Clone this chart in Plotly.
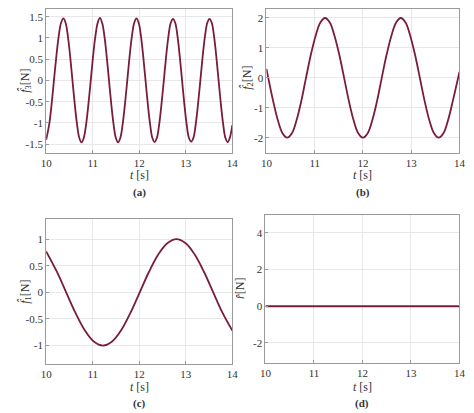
import plotly.graph_objects as go

# values (t in s, forces in N)
t_a = [10.00, 10.066, 10.117, 10.167, 10.218, 10.268, 10.319, 10.37,
       10.419, 10.468, 10.516, 10.565, 10.614, 10.663, 10.711, 10.76,
       10.809, 10.859, 10.908, 10.958, 11.007, 11.056, 11.106, 11.155,
       11.204, 11.253, 11.301, 11.35, 11.399, 11.448, 11.496, 11.545,
       11.594, 11.644, 11.693, 11.743, 11.792, 11.841, 11.891, 11.94,
       11.989, 12.038, 12.086, 12.135, 12.184, 12.233, 12.281, 12.33,
       12.379, 12.429, 12.478, 12.528, 12.577, 12.626, 12.676, 12.725,
       12.774, 12.823, 12.871, 12.92, 12.969, 13.018, 13.066, 13.115,
       13.164, 13.214, 13.263, 13.313, 13.362, 13.411, 13.461, 13.51,
       13.559, 13.608, 13.656, 13.705, 13.754, 13.803, 13.851, 13.90,
       13.949, 14.00]
f3 = [-1.40, -1.03, -0.56, 0.0, 0.56, 1.03, 1.35, 1.46,
      1.35, 1.03, 0.56, 0.0, -0.56, -1.03, -1.35, -1.46,
      -1.35, -1.03, -0.56, 0.0, 0.56, 1.03, 1.35, 1.47,
      1.35, 1.03, 0.56, 0.0, -0.56, -1.03, -1.35, -1.46,
      -1.35, -1.03, -0.56, 0.0, 0.56, 1.03, 1.35, 1.46,
      1.35, 1.03, 0.56, 0.0, -0.56, -1.03, -1.35, -1.45,
      -1.35, -1.03, -0.56, 0.0, 0.56, 1.03, 1.35, 1.45,
      1.35, 1.03, 0.56, 0.0, -0.56, -1.03, -1.35, -1.44,
      -1.35, -1.03, -0.56, 0.0, 0.56, 1.03, 1.35, 1.45,
      1.35, 1.03, 0.56, 0.0, -0.56, -1.03, -1.35, -1.45,
      -1.34, -1.05]

t_b = [10.00, 10.138, 10.235, 10.333, 10.43, 10.528, 10.625, 10.723, 10.82, 10.92,
       11.02, 11.118, 11.215, 11.313, 11.41, 11.51, 11.61, 11.708, 11.805, 11.903,
       12.00, 12.098, 12.195, 12.293, 12.39, 12.49, 12.59, 12.688, 12.785, 12.883,
       12.98, 13.08, 13.18, 13.278, 13.375, 13.473, 13.57, 13.668, 13.765, 13.863, 14.00]
f2 = [0.30, -0.77, -1.41, -1.85, -2.0, -1.85, -1.41, -0.77, 0.0, 0.77,
      1.41, 1.85, 2.0, 1.85, 1.41, 0.77, 0.0, -0.77, -1.41, -1.85,
      -2.0, -1.85, -1.41, -0.77, 0.0, 0.77, 1.41, 1.85, 2.0, 1.85,
      1.41, 0.77, 0.0, -0.77, -1.41, -1.85, -2.0, -1.85, -1.41, -0.77, 0.20]

t_c = [10.00, 10.2325, 10.43, 10.6275, 10.825, 11.0225, 11.22, 11.4175, 11.615, 11.8125,
       12.01, 12.2075, 12.405, 12.6025, 12.80, 12.9975, 13.195, 13.3925, 13.59, 13.7875, 14.00]
f1 = [0.77, 0.383, 0.0, -0.383, -0.707, -0.924, -1.0, -0.924, -0.707, -0.383,
      0.0, 0.383, 0.707, 0.924, 1.0, 0.924, 0.707, 0.383, 0.0, -0.383, -0.72]

t_d = [10, 11, 12, 13, 14]
r = [0, 0, 0, 0, 0]

x_ticks = [10, 11, 12, 13, 14]
ya_ticks = [-1.5, -1, -0.5, 0, 0.5, 1, 1.5]
yb_ticks = [-2, -1, 0, 1, 2]
yc_ticks = [-1, -0.5, 0, 0.5, 1]
yd_ticks = [-2, 0, 2, 4]

W, H = 474, 413
OFF = 8  # the page body is offset by the browser's default margin
line_col = "#7a1c3c"
font = "Liberation Serif, Times New Roman, DejaVu Serif, serif"
txt_col = "#333333"


def px(p):
    return max(0, (p - OFF) / W)


def py(p):
    return min(1, 1 - (p - OFF) / H)


def lab(v):
    return "%g" % v


fig = go.Figure()

panels = [
    # x, y, xaxis, yaxis, x px range, y px range, y range, y ticks
    (t_a, f3, "x", "y", (41, 232), (8, 152), [-1.7, 1.68], ya_ticks),
    (t_b, f2, "x2", "y2", (267, 465), (8, 152), [-2.5, 2.3], yb_ticks),
    (t_c, f1, "x3", "y3", (41, 232), (219, 364), [-1.35, 1.37], yc_ticks),
    (t_d, r, "x4", "y4", (266, 465), (214, 363), [-3.1, 5], yd_ticks),
]

axes = {}
for i, (xs, ys, xa, ya, xpx, ypx, yr, yt) in enumerate(panels):
    fig.add_trace(go.Scatter(x=xs, y=ys, mode="lines", xaxis=xa, yaxis=ya,
                             line=dict(color=line_col, width=1.8, shape="spline"),
                             showlegend=False))
    n = "" if i == 0 else str(i + 1)
    common = dict(showline=True, mirror=True, linecolor="#9a9a9a", linewidth=1,
                  showgrid=True, gridcolor="#e8e8e8", gridwidth=1, zeroline=False,
                  ticks="inside", ticklen=3, tickcolor="#9a9a9a",
                  ticklabeloverflow="allow",
                  tickfont=dict(family=font, size=11, color=txt_col))
    axes["xaxis" + n] = dict(common, domain=[px(xpx[0]), px(xpx[1])], range=[10, 14],
                             tickvals=x_ticks, ticktext=[lab(v) for v in x_ticks],
                             anchor=ya)
    axes["yaxis" + n] = dict(common, domain=[py(ypx[1]), py(ypx[0])], range=yr,
                             tickvals=yt, ticktext=[lab(v) for v in yt],
                             anchor=xa)

anns = []
# x axis titles and panel letters
for xpx, ytitle, yletter, letter in [((41, 232), 174, 192, "(a)"), ((267, 465), 174, 192, "(b)"),
                                     ((41, 232), 387, 403, "(c)"), ((266, 465), 387, 403, "(d)")]:
    xc = px((xpx[0] + xpx[1]) / 2)
    anns.append(dict(x=xc, y=py(ytitle), xref="paper", yref="paper", showarrow=False,
                     xanchor="center", yanchor="middle",
                     text="<i>t</i> [s]", font=dict(family=font, size=12, color=txt_col)))
    anns.append(dict(x=xc, y=py(yletter), xref="paper", yref="paper", showarrow=False,
                     xanchor="center", yanchor="middle",
                     text="<b>" + letter + "</b>", font=dict(family=font, size=11, color=txt_col)))

# y axis titles
for xt, ypx, txt in [(9, (8, 152), "<i>f\u0302</i><sub>3</sub>[N]"),
                     (247, (2, 152), "<i>f\u0302</i><sub>2</sub>[N]"),
                     (9, (219, 364), "<i>f\u0302</i><sub>1</sub>[N]"),
                     (240, (214, 363), "<i>r\u0302</i>[N]")]:
    anns.append(dict(x=px(xt), y=py((ypx[0] + ypx[1]) / 2), xref="paper", yref="paper",
                     showarrow=False, textangle=-90, text=txt,
                     xanchor="left" if xt < 20 else "center", yanchor="middle",
                     font=dict(family=font, size=12, color=txt_col)))

fig.update_layout(width=W, height=H, margin=dict(l=0, r=0, t=0, b=0),
                  font=dict(family=font, size=11, color=txt_col),
                  paper_bgcolor="white", plot_bgcolor="white", annotations=anns, **axes)

fig.write_html("out.html")
